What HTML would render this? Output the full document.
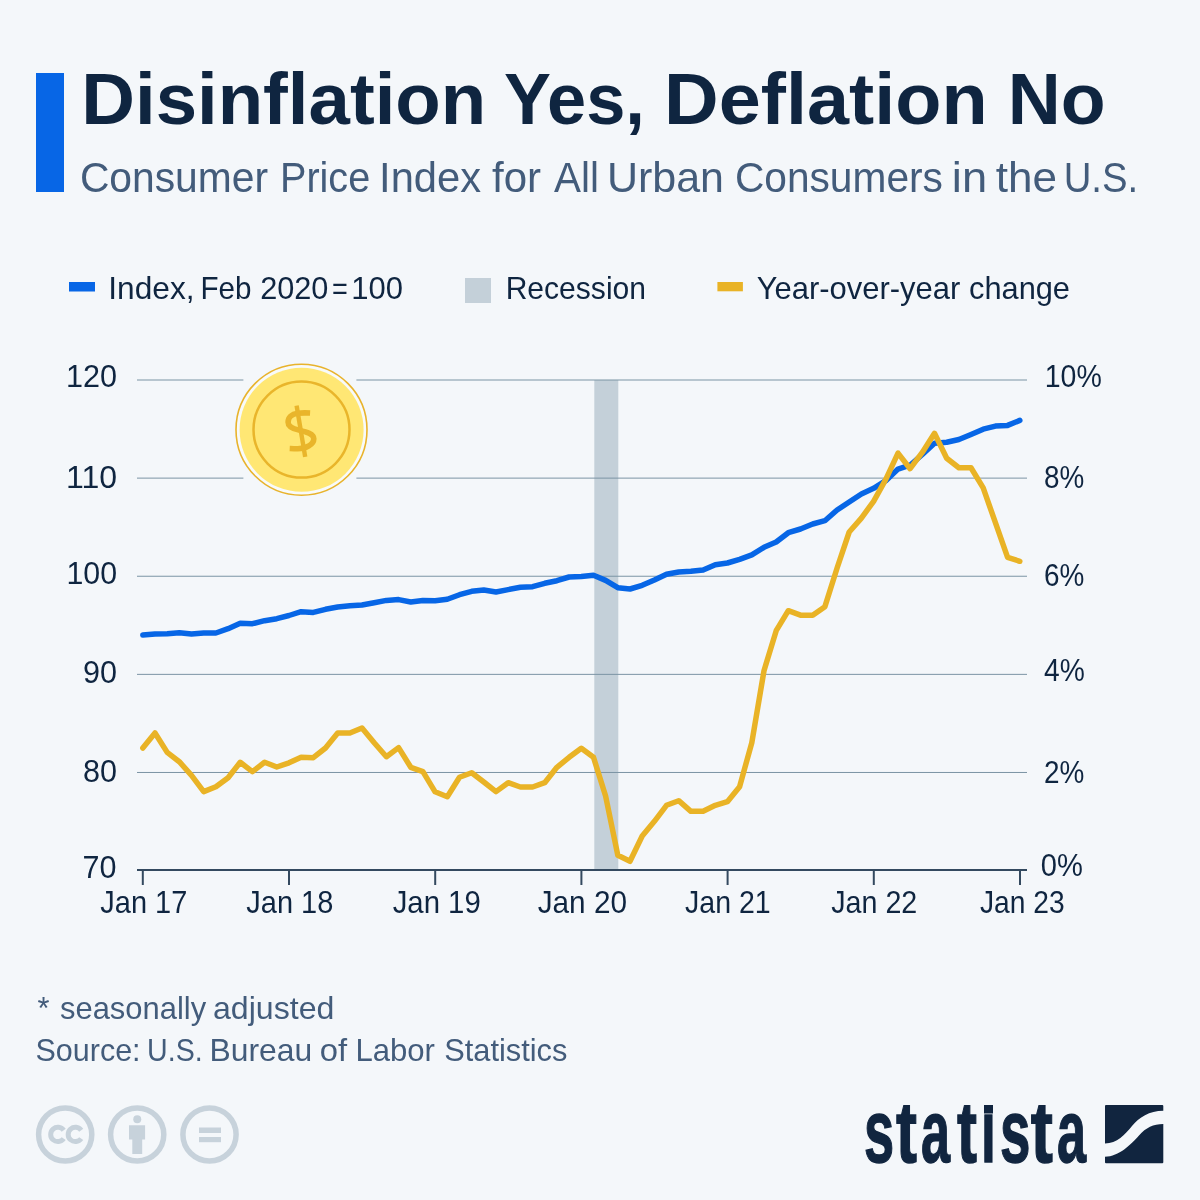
<!DOCTYPE html>
<html><head><meta charset="utf-8"><style>
html,body{margin:0;padding:0;background:#f4f7fa;}
svg{display:block;will-change:transform;}
.ax{font-family:"Liberation Sans",sans-serif;font-size:30.5px;fill:#0f2540;}
.lg{font-family:"Liberation Sans",sans-serif;font-size:31.5px;fill:#0f2540;}
.ft{font-family:"Liberation Sans",sans-serif;font-size:28.3px;fill:#4a6585;}
</style></head><body>
<svg width="1200" height="1200" viewBox="0 0 1200 1200">
<rect width="1200" height="1200" fill="#f4f7fa"/>
<clipPath id="lc"><rect x="850" y="1105" width="250" height="70"/></clipPath>
<rect x="594.3" y="380" width="24" height="490" fill="#c4d0d9"/>
<line x1="137" y1="380.00" x2="243.4" y2="380.00" stroke="#7b94a4" stroke-width="1"/>
<line x1="356.4" y1="380.00" x2="1027" y2="380.00" stroke="#7b94a4" stroke-width="1"/>
<line x1="137" y1="478.12" x2="243.4" y2="478.12" stroke="#7b94a4" stroke-width="1"/>
<line x1="356.4" y1="478.12" x2="1027" y2="478.12" stroke="#7b94a4" stroke-width="1"/>
<line x1="137" y1="576.24" x2="1027" y2="576.24" stroke="#7b94a4" stroke-width="1"/>
<line x1="137" y1="674.36" x2="1027" y2="674.36" stroke="#7b94a4" stroke-width="1"/>
<line x1="137" y1="772.48" x2="1027" y2="772.48" stroke="#7b94a4" stroke-width="1"/>
<line x1="137" y1="870" x2="1027" y2="870" stroke="#33495f" stroke-width="2"/>
<line x1="142.8" y1="870" x2="142.8" y2="885" stroke="#33495f" stroke-width="2"/>
<line x1="289.0" y1="870" x2="289.0" y2="885" stroke="#33495f" stroke-width="2"/>
<line x1="435.2" y1="870" x2="435.2" y2="885" stroke="#33495f" stroke-width="2"/>
<line x1="581.4" y1="870" x2="581.4" y2="885" stroke="#33495f" stroke-width="2"/>
<line x1="727.6" y1="870" x2="727.6" y2="885" stroke="#33495f" stroke-width="2"/>
<line x1="873.8" y1="870" x2="873.8" y2="885" stroke="#33495f" stroke-width="2"/>
<line x1="1020.0" y1="870" x2="1020.0" y2="885" stroke="#33495f" stroke-width="2"/>
<polyline points="142.8,635.1 155.0,634.0 167.2,633.7 179.3,632.7 191.5,634.0 203.7,633.0 215.9,633.0 228.1,628.7 240.2,623.3 252.4,623.7 264.6,620.7 276.8,618.7 289.0,615.5 301.1,611.7 313.3,612.4 325.5,609.3 337.7,607.0 349.9,605.7 362.0,605.0 374.2,602.7 386.4,600.4 398.6,599.6 410.8,602.0 422.9,600.4 435.1,600.7 447.3,599.3 459.5,594.7 471.7,591.3 483.8,590.0 496.0,592.0 508.2,589.6 520.4,587.3 532.6,586.7 544.7,583.3 556.9,580.7 569.1,577.0 581.3,576.5 593.5,575.3 605.6,580.4 617.8,587.7 630.0,589.0 642.2,585.3 654.4,580.0 666.5,574.3 678.7,572.0 690.9,571.3 703.1,570.0 715.3,564.7 727.4,563.0 739.6,559.3 751.8,554.9 764.0,547.3 776.2,542.0 788.3,532.7 800.5,529.0 812.7,524.0 824.9,520.7 837.1,510.0 849.2,502.0 861.4,494.0 873.6,488.3 885.8,480.7 898.0,469.1 910.1,465.2 922.3,454.5 934.5,443.2 946.7,442.2 958.9,439.5 971.0,434.5 983.2,429.2 995.4,426.1 1007.6,425.4 1019.8,420.4" fill="none" stroke="#0766e6" stroke-width="5.5" stroke-linejoin="round" stroke-linecap="round"/>
<polyline points="142.8,748.0 155.0,733.0 167.2,752.4 179.3,761.7 191.5,775.3 203.7,791.6 215.9,786.7 228.1,777.7 240.2,762.3 252.4,771.6 264.6,762.3 276.8,767.0 289.0,762.8 301.1,757.3 313.3,757.7 325.5,748.0 337.7,733.0 349.9,733.0 362.0,728.0 374.2,742.7 386.4,756.7 398.6,747.6 410.8,767.3 422.9,771.6 435.1,791.8 447.3,796.7 459.5,777.3 471.7,772.7 483.8,782.0 496.0,791.6 508.2,782.7 520.4,787.0 532.6,787.0 544.7,782.7 556.9,767.3 569.1,757.3 581.3,748.3 593.5,757.3 605.6,796.0 617.8,855.3 630.0,861.3 642.2,836.0 654.4,821.3 666.5,805.3 678.7,800.7 690.9,811.3 703.1,811.3 715.3,805.3 727.4,801.7 739.6,786.7 751.8,742.7 764.0,670.7 776.2,630.7 788.3,610.7 800.5,615.2 812.7,615.2 824.9,606.7 837.1,568.0 849.2,532.0 861.4,518.1 873.6,501.3 885.8,479.3 898.0,453.1 910.1,468.7 922.3,452.4 934.5,433.3 946.7,458.3 958.9,467.7 971.0,467.8 983.2,487.9 995.4,522.7 1007.6,557.3 1019.8,561.3" fill="none" stroke="#e9b326" stroke-width="5.5" stroke-linejoin="round" stroke-linecap="round"/>
<circle cx="301.5" cy="429.7" r="65.5" fill="#f8fafa" stroke="#e8b32c" stroke-width="1.6"/>
<circle cx="301.6" cy="429.8" r="62" fill="#ffe774"/>
<circle cx="301.5" cy="429.6" r="48" fill="none" stroke="#e9b52b" stroke-width="2.5"/>
<path d="M310.1,413 C306,412.8 301,412.8 297.7,413.2 C291.5,414 288.1,417.5 288.1,422.2 C288.1,426.5 292.5,428.5 298.2,429.9 C306,431.8 313.8,433.5 313.8,438.7 C313.8,444.5 306,448.6 297.7,448.7 C294,448.7 292,448.6 289.7,448.5" fill="none" stroke="#e9b52b" stroke-width="5.6"/>
<line x1="296.6" y1="405.7" x2="305.2" y2="456.8" stroke="#e9b52b" stroke-width="4.4"/>
<rect x="36" y="73" width="28" height="119" fill="#0766e6"/>
<text x="81.31" y="124" font-family="Liberation Sans" font-weight="bold" font-size="72.7" fill="#0f2540" textLength="404.87" lengthAdjust="spacingAndGlyphs">Disinflation</text>
<text x="503.97" y="124" font-family="Liberation Sans" font-weight="bold" font-size="72.7" fill="#0f2540" textLength="140.97" lengthAdjust="spacingAndGlyphs">Yes,</text>
<text x="664.09" y="124" font-family="Liberation Sans" font-weight="bold" font-size="72.7" fill="#0f2540" textLength="323.52" lengthAdjust="spacingAndGlyphs">Deflation</text>
<text x="1007.81" y="124" font-family="Liberation Sans" font-weight="bold" font-size="72.7" fill="#0f2540" textLength="97.85" lengthAdjust="spacingAndGlyphs">No</text>
<text x="79.89" y="191.5" font-family="Liberation Sans" font-size="42" fill="#435c7b" textLength="188.22" lengthAdjust="spacingAndGlyphs">Consumer</text>
<text x="279.98" y="191.5" font-family="Liberation Sans" font-size="42" fill="#435c7b" textLength="90.21" lengthAdjust="spacingAndGlyphs">Price</text>
<text x="379.05" y="191.5" font-family="Liberation Sans" font-size="42" fill="#435c7b" textLength="102.00" lengthAdjust="spacingAndGlyphs">Index</text>
<text x="492.00" y="191.5" font-family="Liberation Sans" font-size="42" fill="#435c7b" textLength="49.01" lengthAdjust="spacingAndGlyphs">for</text>
<text x="554.07" y="191.5" font-family="Liberation Sans" font-size="42" fill="#435c7b" textLength="44.93" lengthAdjust="spacingAndGlyphs">All</text>
<text x="606.91" y="191.5" font-family="Liberation Sans" font-size="42" fill="#435c7b" textLength="117.10" lengthAdjust="spacingAndGlyphs">Urban</text>
<text x="734.88" y="191.5" font-family="Liberation Sans" font-size="42" fill="#435c7b" textLength="208.04" lengthAdjust="spacingAndGlyphs">Consumers</text>
<text x="951.86" y="191.5" font-family="Liberation Sans" font-size="42" fill="#435c7b" textLength="35.28" lengthAdjust="spacingAndGlyphs">in</text>
<text x="995.87" y="191.5" font-family="Liberation Sans" font-size="42" fill="#435c7b" textLength="61.22" lengthAdjust="spacingAndGlyphs">the</text>
<text x="1063.71" y="191.5" font-family="Liberation Sans" font-size="42" fill="#435c7b" textLength="74.47" lengthAdjust="spacingAndGlyphs">U.S.</text>
<text x="108.29" y="299.2" font-family="Liberation Sans" font-size="31.5" fill="#0f2540" textLength="86.35" lengthAdjust="spacingAndGlyphs">Index,</text>
<text x="200.42" y="299.2" font-family="Liberation Sans" font-size="31.5" fill="#0f2540" textLength="51.02" lengthAdjust="spacingAndGlyphs">Feb</text>
<text x="260.16" y="299.2" font-family="Liberation Sans" font-size="31.5" fill="#0f2540" textLength="68.29" lengthAdjust="spacingAndGlyphs">2020</text>
<text x="332.05" y="299.2" font-family="Liberation Sans" font-size="31.5" fill="#0f2540" textLength="15.80" lengthAdjust="spacingAndGlyphs">=</text>
<text x="351.29" y="299.2" font-family="Liberation Sans" font-size="31.5" fill="#0f2540" textLength="51.74" lengthAdjust="spacingAndGlyphs">100</text>
<text x="505.66" y="299.2" font-family="Liberation Sans" font-size="31.5" fill="#0f2540" textLength="140.37" lengthAdjust="spacingAndGlyphs">Recession</text>
<text x="756.69" y="299.2" font-family="Liberation Sans" font-size="31.5" fill="#0f2540" textLength="203.53" lengthAdjust="spacingAndGlyphs">Year-over-year</text>
<text x="969.00" y="299.2" font-family="Liberation Sans" font-size="31.5" fill="#0f2540" textLength="101.00" lengthAdjust="spacingAndGlyphs">change</text>
<text x="37.51" y="1018.6" font-family="Liberation Sans" font-size="30.5" fill="#435c7b" textLength="11.99" lengthAdjust="spacingAndGlyphs">*</text>
<text x="60.00" y="1018.6" font-family="Liberation Sans" font-size="30.5" fill="#435c7b" textLength="146.12" lengthAdjust="spacingAndGlyphs">seasonally</text>
<text x="212.99" y="1018.6" font-family="Liberation Sans" font-size="30.5" fill="#435c7b" textLength="121.44" lengthAdjust="spacingAndGlyphs">adjusted</text>
<text x="35.56" y="1060.8" font-family="Liberation Sans" font-size="30.5" fill="#435c7b" textLength="105.03" lengthAdjust="spacingAndGlyphs">Source:</text>
<text x="147.05" y="1060.8" font-family="Liberation Sans" font-size="30.5" fill="#435c7b" textLength="55.62" lengthAdjust="spacingAndGlyphs">U.S.</text>
<text x="209.54" y="1060.8" font-family="Liberation Sans" font-size="30.5" fill="#435c7b" textLength="102.71" lengthAdjust="spacingAndGlyphs">Bureau</text>
<text x="319.80" y="1060.8" font-family="Liberation Sans" font-size="30.5" fill="#435c7b" textLength="27.33" lengthAdjust="spacingAndGlyphs">of</text>
<text x="355.45" y="1060.8" font-family="Liberation Sans" font-size="30.5" fill="#435c7b" textLength="79.55" lengthAdjust="spacingAndGlyphs">Labor</text>
<text x="444.17" y="1060.8" font-family="Liberation Sans" font-size="30.5" fill="#435c7b" textLength="123.25" lengthAdjust="spacingAndGlyphs">Statistics</text>
<text x="65.96" y="387" font-family="Liberation Sans" font-size="30.5" fill="#0f2540" textLength="51.06" lengthAdjust="spacingAndGlyphs">120</text>
<text x="65.96" y="488" font-family="Liberation Sans" font-size="30.5" fill="#0f2540" textLength="51.06" lengthAdjust="spacingAndGlyphs">110</text>
<text x="66.42" y="584" font-family="Liberation Sans" font-size="30.5" fill="#0f2540" textLength="50.60" lengthAdjust="spacingAndGlyphs">100</text>
<text x="83.00" y="683" font-family="Liberation Sans" font-size="30.5" fill="#0f2540" textLength="34.00" lengthAdjust="spacingAndGlyphs">90</text>
<text x="83.00" y="781.7" font-family="Liberation Sans" font-size="30.5" fill="#0f2540" textLength="34.00" lengthAdjust="spacingAndGlyphs">80</text>
<text x="82.50" y="878" font-family="Liberation Sans" font-size="30.5" fill="#0f2540" textLength="34.00" lengthAdjust="spacingAndGlyphs">70</text>
<text x="1044.71" y="387.1" font-family="Liberation Sans" font-size="30.5" fill="#0f2540" textLength="57.08" lengthAdjust="spacingAndGlyphs">10%</text>
<text x="1044.07" y="487.7" font-family="Liberation Sans" font-size="30.5" fill="#0f2540" textLength="40.26" lengthAdjust="spacingAndGlyphs">8%</text>
<text x="1044.01" y="585.9" font-family="Liberation Sans" font-size="30.5" fill="#0f2540" textLength="40.33" lengthAdjust="spacingAndGlyphs">6%</text>
<text x="1044.00" y="680.9" font-family="Liberation Sans" font-size="30.5" fill="#0f2540" textLength="40.73" lengthAdjust="spacingAndGlyphs">4%</text>
<text x="1044.01" y="783" font-family="Liberation Sans" font-size="30.5" fill="#0f2540" textLength="40.33" lengthAdjust="spacingAndGlyphs">2%</text>
<text x="1040.87" y="876.25" font-family="Liberation Sans" font-size="30.5" fill="#0f2540" textLength="42.05" lengthAdjust="spacingAndGlyphs">0%</text>
<text x="100.28" y="913" font-family="Liberation Sans" font-size="30.5" fill="#0f2540" textLength="87.02" lengthAdjust="spacingAndGlyphs">Jan 17</text>
<text x="246.28" y="913" font-family="Liberation Sans" font-size="30.5" fill="#0f2540" textLength="87.02" lengthAdjust="spacingAndGlyphs">Jan 18</text>
<text x="392.68" y="913" font-family="Liberation Sans" font-size="30.5" fill="#0f2540" textLength="88.05" lengthAdjust="spacingAndGlyphs">Jan 19</text>
<text x="537.67" y="913" font-family="Liberation Sans" font-size="30.5" fill="#0f2540" textLength="89.32" lengthAdjust="spacingAndGlyphs">Jan 20</text>
<text x="685.00" y="913" font-family="Liberation Sans" font-size="30.5" fill="#0f2540" textLength="85.71" lengthAdjust="spacingAndGlyphs">Jan 21</text>
<text x="831.27" y="913" font-family="Liberation Sans" font-size="30.5" fill="#0f2540" textLength="86.04" lengthAdjust="spacingAndGlyphs">Jan 22</text>
<text x="980.00" y="913" font-family="Liberation Sans" font-size="30.5" fill="#0f2540" textLength="84.71" lengthAdjust="spacingAndGlyphs">Jan 23</text>
<text x="863.92" y="1162.4" clip-path="url(#lc)" font-family="Liberation Sans" font-weight="bold" font-size="89" fill="#11253f" stroke="#11253f" stroke-width="1.4" stroke-linejoin="miter" textLength="30.15" lengthAdjust="spacingAndGlyphs">s</text>
<text x="896.00" y="1162.4" clip-path="url(#lc)" font-family="Liberation Sans" font-weight="bold" font-size="89" fill="#11253f" stroke="#11253f" stroke-width="1.4" stroke-linejoin="miter" textLength="21.00" lengthAdjust="spacingAndGlyphs">t</text>
<text x="921.06" y="1162.4" clip-path="url(#lc)" font-family="Liberation Sans" font-weight="bold" font-size="89" fill="#11253f" stroke="#11253f" stroke-width="1.4" stroke-linejoin="miter" textLength="29.00" lengthAdjust="spacingAndGlyphs">a</text>
<text x="957.00" y="1162.4" clip-path="url(#lc)" font-family="Liberation Sans" font-weight="bold" font-size="89" fill="#11253f" stroke="#11253f" stroke-width="1.4" stroke-linejoin="miter" textLength="20.00" lengthAdjust="spacingAndGlyphs">t</text>
<text x="981.06" y="1162.4" clip-path="url(#lc)" font-family="Liberation Sans" font-weight="bold" font-size="89" fill="#11253f" stroke="#11253f" stroke-width="1.4" stroke-linejoin="miter" textLength="14.88" lengthAdjust="spacingAndGlyphs">i</text>
<text x="999.91" y="1162.4" clip-path="url(#lc)" font-family="Liberation Sans" font-weight="bold" font-size="89" fill="#11253f" stroke="#11253f" stroke-width="1.4" stroke-linejoin="miter" textLength="30.42" lengthAdjust="spacingAndGlyphs">s</text>
<text x="1030.83" y="1162.4" clip-path="url(#lc)" font-family="Liberation Sans" font-weight="bold" font-size="89" fill="#11253f" stroke="#11253f" stroke-width="1.4" stroke-linejoin="miter" textLength="22.17" lengthAdjust="spacingAndGlyphs">t</text>
<text x="1057.08" y="1162.4" clip-path="url(#lc)" font-family="Liberation Sans" font-weight="bold" font-size="89" fill="#11253f" stroke="#11253f" stroke-width="1.4" stroke-linejoin="miter" textLength="29.03" lengthAdjust="spacingAndGlyphs">a</text>
<rect x="69" y="282" width="26" height="9.5" fill="#0766e6"/>
<rect x="465" y="278" width="26" height="25" fill="#c4d0d9"/>
<rect x="717.4" y="282" width="25.5" height="9.3" fill="#e9b326"/>
<circle cx="65.2" cy="1134.5" r="26.6" fill="none" stroke="#c7d2db" stroke-width="5.5"/>
<circle cx="137.2" cy="1134.5" r="26.6" fill="none" stroke="#c7d2db" stroke-width="5.5"/>
<circle cx="209.5" cy="1134.5" r="26.6" fill="none" stroke="#c7d2db" stroke-width="5.5"/>
<path d="M63.72,1130.17 A7.2,7.2 0 1 0 63.72,1138.63" fill="none" stroke="#c7d2db" stroke-width="5"/>
<path d="M81.22,1130.17 A7.2,7.2 0 1 0 81.22,1138.63" fill="none" stroke="#c7d2db" stroke-width="5"/>
<circle cx="137.25" cy="1119.25" r="4" fill="#c7d2db"/>
<path d="M129,1125.3 H145.1 V1139.4 H142.2 V1154.1 H132.3 V1139.4 H129 Z" fill="#c7d2db"/>
<rect x="199" y="1127.5" width="22" height="5.5" fill="#c7d2db"/>
<rect x="199" y="1137" width="22" height="5.2" fill="#c7d2db"/>
<rect x="984" y="1105" width="9" height="8.5" fill="#11253f"/>
<g transform="translate(1105,1105)"><path d="M1,0 H57.3 Q58.3,0 58.3,1 V5.7 C44.3,5.7 34,12.5 27,21.1 C20,29.7 12,38.6 0,38.6 V1 Q0,0 1,0 Z" fill="#11253f"/><path d="M0,51.7 C14,51.7 26,39.3 34,30.5 C41,22.8 48.3,19.1 58.3,19.1 V57.3 Q58.3,58.3 57.3,58.3 H1 Q0,58.3 0,57.3 Z" fill="#11253f"/></g>
</svg>
</body></html>
